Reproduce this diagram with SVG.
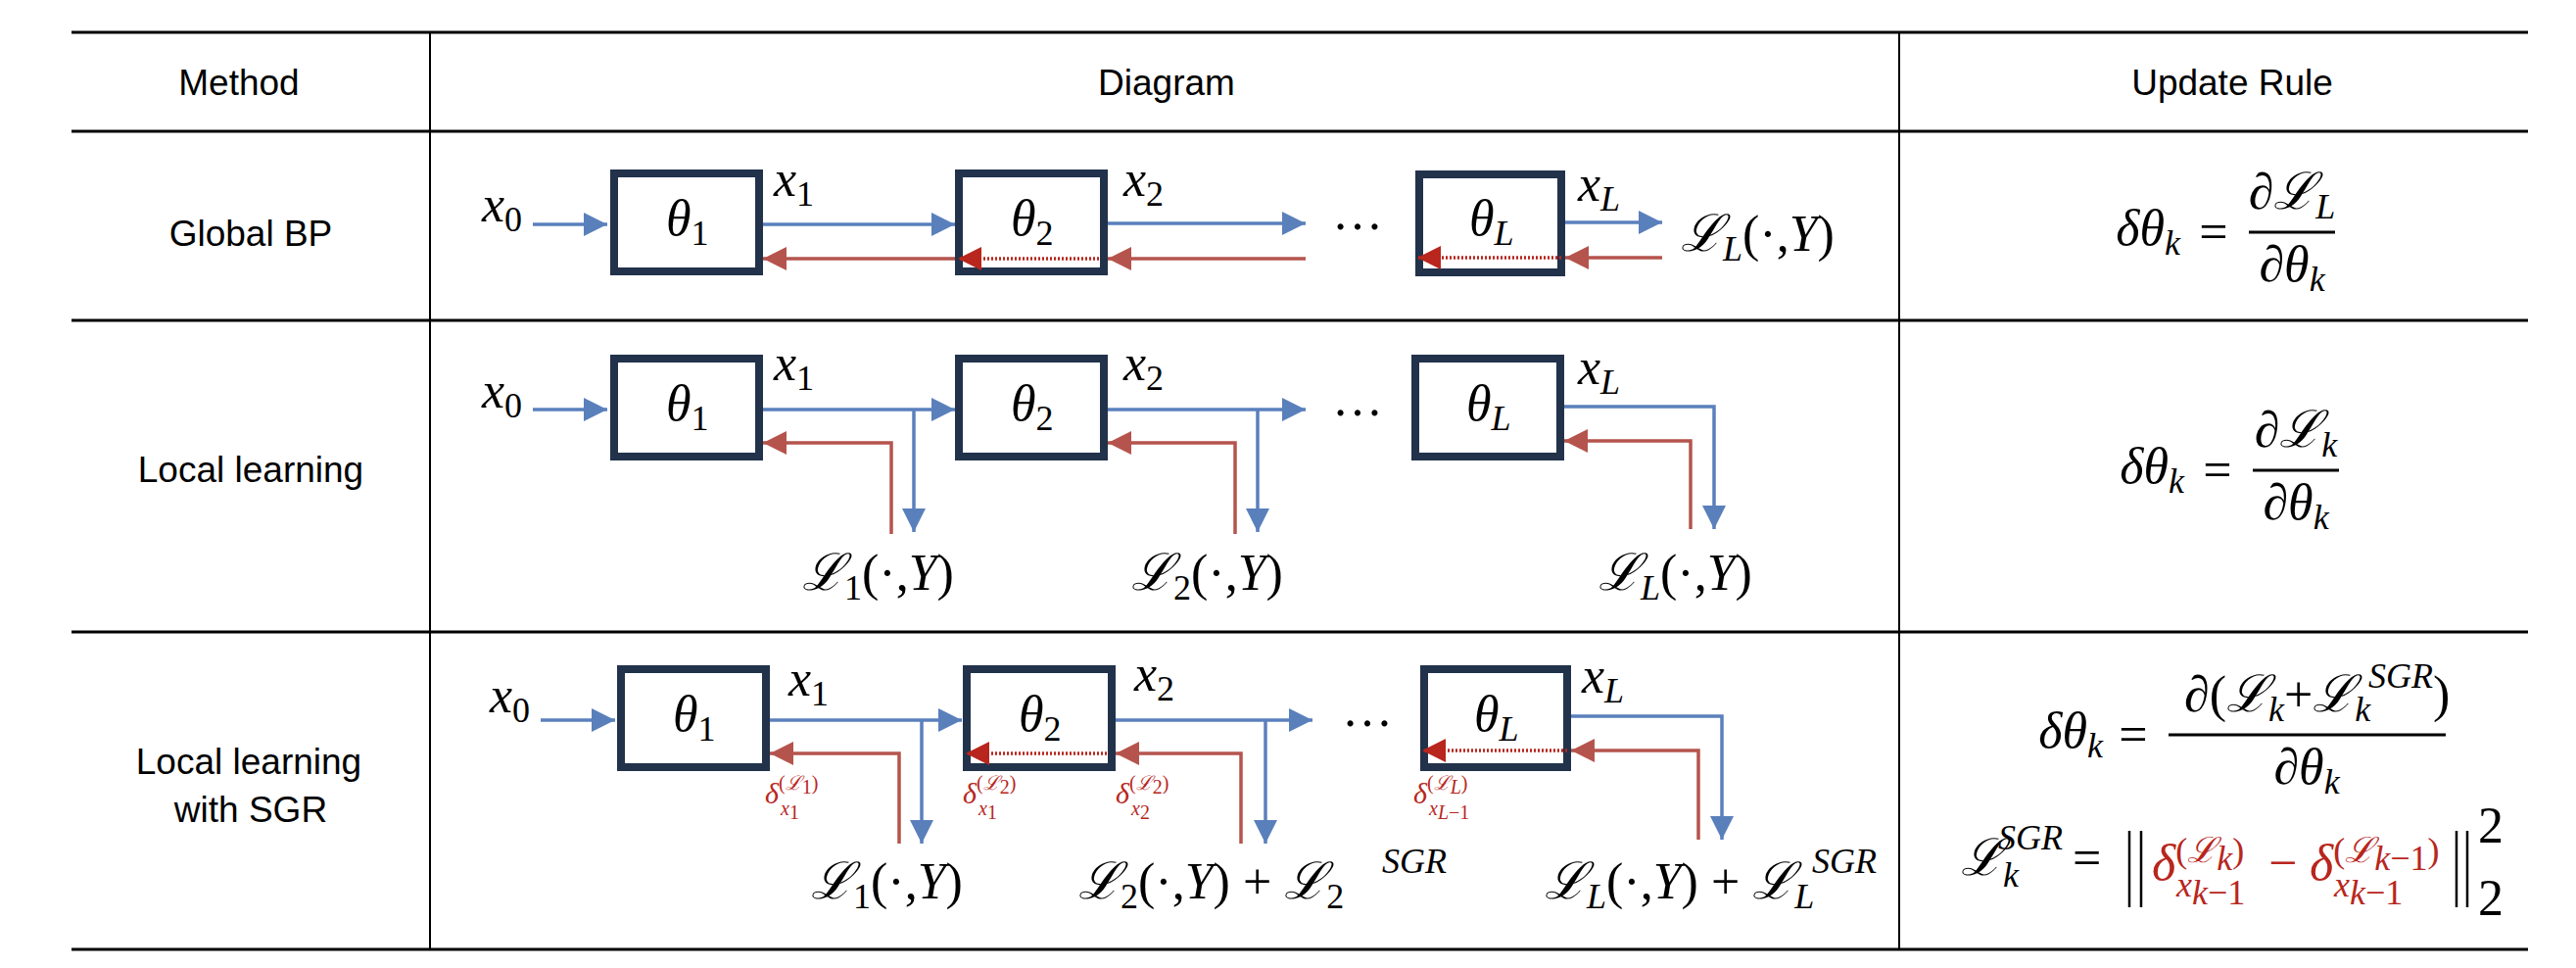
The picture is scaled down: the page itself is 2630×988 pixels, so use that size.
<svg xmlns="http://www.w3.org/2000/svg" width="2630" height="988" viewBox="0 0 2630 988">
<style>
.hd{font-family:"Liberation Sans",Arial,sans-serif;font-size:37px;fill:#000;text-anchor:middle}
.m{font-family:"Liberation Serif","DejaVu Serif",serif;font-style:italic;font-size:52px;fill:#000}
.up{font-style:normal}
.sb{font-size:36px}
.rd{fill:#B8261D}
.d{font-family:"Liberation Serif","DejaVu Serif",serif;font-style:italic;font-size:30px;fill:#B8261D}
.ds{font-size:20px}
.box{fill:#fff;stroke:#22324B;stroke-width:8}
.b{stroke:#5A80BC;stroke-width:3.5;fill:none}
.r{stroke:#B5544D;stroke-width:3.5;fill:none}
.dr{stroke:#B8261D;stroke-width:3.5;fill:none;stroke-dasharray:2 2}
.tl{stroke:#000;stroke-width:3}
.vl{stroke:#000;stroke-width:2}
</style>
<defs>
<marker id="ab" viewBox="0 0 24 24" markerWidth="24" markerHeight="24" markerUnits="userSpaceOnUse" refX="24" refY="12" orient="auto"><path d="M0,0 L24,12 L0,24 z" fill="#5A80BC"/></marker>
<marker id="ar" viewBox="0 0 24 24" markerWidth="24" markerHeight="24" markerUnits="userSpaceOnUse" refX="24" refY="12" orient="auto"><path d="M0,0 L24,12 L0,24 z" fill="#B5544D"/></marker>
<marker id="ad" viewBox="0 0 24 24" markerWidth="24" markerHeight="24" markerUnits="userSpaceOnUse" refX="24" refY="12" orient="auto"><path d="M0,0 L24,12 L0,24 z" fill="#B8261D"/></marker>
</defs>
<rect width="2630" height="988" fill="#fff"/>
<g id="table">
<line class="tl" x1="73" y1="33" x2="2581" y2="33"/>
<line class="tl" x1="73" y1="134" x2="2581" y2="134"/>
<line class="tl" x1="73" y1="327" x2="2581" y2="327"/>
<line class="tl" x1="73" y1="645" x2="2581" y2="645"/>
<line class="tl" x1="73" y1="969" x2="2581" y2="969"/>
<line class="vl" x1="439" y1="33" x2="439" y2="969"/>
<line class="vl" x1="1939" y1="33" x2="1939" y2="969"/>
<text class="hd" x="244" y="97">Method</text>
<text class="hd" x="1191" y="97">Diagram</text>
<text class="hd" x="2279" y="97">Update Rule</text>
<text class="hd" x="256" y="251">Global BP</text>
<text class="hd" x="256" y="492">Local learning</text>
<text class="hd" x="254" y="790">Local learning</text>
<text class="hd" x="256" y="839">with SGR</text>
</g>
<g id="connectors">
<!-- row 1 -->
<line class="b" x1="544" y1="229" x2="620" y2="229" marker-end="url(#ab)"/>
<line class="b" x1="779" y1="229" x2="975" y2="229" marker-end="url(#ab)"/>
<line class="b" x1="1131" y1="228" x2="1333" y2="228" marker-end="url(#ab)"/>
<line class="b" x1="1598" y1="227" x2="1697" y2="227" marker-end="url(#ab)"/>
<line class="r" x1="975" y1="264" x2="779" y2="264" marker-end="url(#ar)"/>
<line class="r" x1="1333" y1="264" x2="1131" y2="264" marker-end="url(#ar)"/>
<line class="r" x1="1697" y1="263" x2="1598" y2="263" marker-end="url(#ar)"/>
<!-- row 2 -->
<line class="b" x1="544" y1="418" x2="620" y2="418" marker-end="url(#ab)"/>
<line class="b" x1="779" y1="418" x2="975" y2="418" marker-end="url(#ab)"/>
<polyline class="b" points="933,418 933,543" marker-end="url(#ab)"/>
<polyline class="r" points="910,545 910,452 779,452" marker-end="url(#ar)"/>
<line class="b" x1="1131" y1="418" x2="1333" y2="418" marker-end="url(#ab)"/>
<polyline class="b" points="1284,418 1284,543" marker-end="url(#ab)"/>
<polyline class="r" points="1261,545 1261,452 1131,452" marker-end="url(#ar)"/>
<polyline class="b" points="1597,415 1750,415 1750,540" marker-end="url(#ab)"/>
<polyline class="r" points="1726,540 1726,450 1597,450" marker-end="url(#ar)"/>
<!-- row 3 -->
<line class="b" x1="552" y1="735" x2="628" y2="735" marker-end="url(#ab)"/>
<line class="b" x1="786" y1="735" x2="982" y2="735" marker-end="url(#ab)"/>
<polyline class="b" points="941,735 941,861" marker-end="url(#ab)"/>
<polyline class="r" points="918,861 918,769 786,769" marker-end="url(#ar)"/>
<line class="b" x1="1139" y1="735" x2="1340" y2="735" marker-end="url(#ab)"/>
<polyline class="b" points="1292,735 1292,861" marker-end="url(#ab)"/>
<polyline class="r" points="1267,861 1267,769 1139,769" marker-end="url(#ar)"/>
<polyline class="b" points="1604,731 1758,731 1758,857" marker-end="url(#ab)"/>
<polyline class="r" points="1734,857 1734,766 1604,766" marker-end="url(#ar)"/>
</g>
<g id="node-r1-1"><rect class="box" x="627" y="177" width="148" height="100"/><text class="m" x="680" y="240">θ<tspan class="sb up" dy="10">1</tspan></text></g>
<g id="node-r1-2"><rect class="box" x="979" y="177" width="148" height="100"/><text class="m" x="1032" y="240">θ<tspan class="sb up" dy="10">2</tspan></text>
<line class="dr" x1="1122" y1="264" x2="978" y2="264" marker-end="url(#ad)"/></g>
<g id="node-r1-L"><rect class="box" x="1449" y="178" width="145" height="100"/><text class="m" x="1500" y="240">θ<tspan class="sb" dy="10">L</tspan></text>
<line class="dr" x1="1594" y1="263" x2="1447" y2="263" marker-end="url(#ad)"/></g>
<g id="node-r2-1"><rect class="box" x="627" y="366" width="148" height="100"/><text class="m" x="680" y="429">θ<tspan class="sb up" dy="10">1</tspan></text></g>
<g id="node-r2-2"><rect class="box" x="979" y="366" width="148" height="100"/><text class="m" x="1032" y="429">θ<tspan class="sb up" dy="10">2</tspan></text></g>
<g id="node-r2-L"><rect class="box" x="1445" y="366" width="148" height="100"/><text class="m" x="1497" y="429">θ<tspan class="sb" dy="10">L</tspan></text></g>
<g id="node-r3-1"><rect class="box" x="634" y="683" width="148" height="100"/><text class="m" x="687" y="746">θ<tspan class="sb up" dy="10">1</tspan></text></g>
<g id="node-r3-2"><rect class="box" x="987" y="683" width="148" height="100"/><text class="m" x="1040" y="746">θ<tspan class="sb up" dy="10">2</tspan></text>
<line class="dr" x1="1130" y1="769" x2="986" y2="769" marker-end="url(#ad)"/></g>
<g id="node-r3-L"><rect class="box" x="1454" y="683" width="146" height="100"/><text class="m" x="1505" y="746">θ<tspan class="sb" dy="10">L</tspan></text>
<line class="dr" x1="1600" y1="766" x2="1452" y2="766" marker-end="url(#ad)"/></g>
<g id="labels">
<!-- row1 -->
<text class="m" x="492" y="226">x<tspan class="sb up" dy="10">0</tspan></text>
<text class="m" x="790" y="200">x<tspan class="sb up" dy="10">1</tspan></text>
<text class="m" x="1147" y="200">x<tspan class="sb up" dy="10">2</tspan></text>
<text class="m" x="1611" y="205">x<tspan class="sb" dy="10">L</tspan></text>
<text class="m up" x="1386" y="234" text-anchor="middle" font-size="40">…</text>
<text class="m" x="1716" y="256">ℒ<tspan class="sb" dy="10">L</tspan><tspan class="up" dy="-10">(·,</tspan>Y<tspan class="up">)</tspan></text>
<!-- row2 -->
<text class="m" x="492" y="416">x<tspan class="sb up" dy="10">0</tspan></text>
<text class="m" x="790" y="388">x<tspan class="sb up" dy="10">1</tspan></text>
<text class="m" x="1147" y="388">x<tspan class="sb up" dy="10">2</tspan></text>
<text class="m" x="1611" y="392">x<tspan class="sb" dy="10">L</tspan></text>
<text class="m up" x="1386" y="424" text-anchor="middle" font-size="40">…</text>
<text class="m" x="819" y="602">ℒ<tspan class="sb up" dy="10">1</tspan><tspan class="up" dy="-10">(·,</tspan>Y<tspan class="up">)</tspan></text>
<text class="m" x="1155" y="602">ℒ<tspan class="sb up" dy="10">2</tspan><tspan class="up" dy="-10">(·,</tspan>Y<tspan class="up">)</tspan></text>
<text class="m" x="1632" y="602">ℒ<tspan class="sb" dy="10">L</tspan><tspan class="up" dy="-10">(·,</tspan>Y<tspan class="up">)</tspan></text>
<!-- row3 -->
<text class="m" x="500" y="727">x<tspan class="sb up" dy="10">0</tspan></text>
<text class="m" x="805" y="710">x<tspan class="sb up" dy="10">1</tspan></text>
<text class="m" x="1158" y="705">x<tspan class="sb up" dy="10">2</tspan></text>
<text class="m" x="1615" y="707">x<tspan class="sb" dy="10">L</tspan></text>
<text class="m up" x="1396" y="741" text-anchor="middle" font-size="40">…</text>
<text class="m" x="828" y="917">ℒ<tspan class="sb up" dy="10">1</tspan><tspan class="up" dy="-10">(·,</tspan>Y<tspan class="up">)</tspan></text>
<text class="m" x="1101" y="917">ℒ<tspan class="sb up" dy="10">2</tspan><tspan class="up" dy="-10">(·,</tspan>Y<tspan class="up">) + </tspan>ℒ<tspan class="sb up" dy="10">2</tspan><tspan class="sb" x="1411" dy="-36">SGR</tspan></text>
<text class="m" x="1577" y="917">ℒ<tspan class="sb" dy="10">L</tspan><tspan class="up" dy="-10">(·,</tspan>Y<tspan class="up">) + </tspan>ℒ<tspan class="sb" dy="10">L</tspan><tspan class="sb" x="1850" dy="-36">SGR</tspan></text>
<text class="d" x="781" y="820">δ<tspan class="ds up" dy="-14">(</tspan><tspan class="ds">ℒ</tspan><tspan class="ds up" font-size="14" dy="4">1</tspan><tspan class="ds up" dy="-4">)</tspan><tspan class="ds" x="797" dy="26">x</tspan><tspan class="ds up" font-size="14" dy="4">1</tspan></text>
<text class="d" x="983" y="820">δ<tspan class="ds up" dy="-14">(</tspan><tspan class="ds">ℒ</tspan><tspan class="ds up" font-size="14" dy="4">2</tspan><tspan class="ds up" dy="-4">)</tspan><tspan class="ds" x="999" dy="26">x</tspan><tspan class="ds up" font-size="14" dy="4">1</tspan></text>
<text class="d" x="1139" y="820">δ<tspan class="ds up" dy="-14">(</tspan><tspan class="ds">ℒ</tspan><tspan class="ds up" font-size="14" dy="4">2</tspan><tspan class="ds up" dy="-4">)</tspan><tspan class="ds" x="1155" dy="26">x</tspan><tspan class="ds up" font-size="14" dy="4">2</tspan></text>
<text class="d" x="1443" y="820">δ<tspan class="ds up" dy="-14">(</tspan><tspan class="ds">ℒ</tspan><tspan class="ds" font-size="14" dy="4">L</tspan><tspan class="ds up" dy="-4">)</tspan><tspan class="ds" x="1459" dy="26">x</tspan><tspan class="ds" font-size="14" dy="4">L</tspan><tspan class="ds up" font-size="14">−1</tspan></text>
</g>
<g id="update-rules">
<!-- row1 -->
<text class="m" x="2226" y="250" text-anchor="end">δθ<tspan class="sb" dy="10">k</tspan></text>
<text class="m up" x="2260" y="254" text-anchor="middle">=</text>
<line x1="2296" y1="237" x2="2384" y2="237" stroke="#000" stroke-width="3"/>
<text class="m" x="2340" y="213" text-anchor="middle">∂ℒ<tspan class="sb" dy="10">L</tspan></text>
<text class="m" x="2340" y="287" text-anchor="middle">∂θ<tspan class="sb" dy="10">k</tspan></text>
<!-- row2 -->
<text class="m" x="2230" y="493" text-anchor="end">δθ<tspan class="sb" dy="10">k</tspan></text>
<text class="m up" x="2264" y="497" text-anchor="middle">=</text>
<line x1="2300" y1="480" x2="2388" y2="480" stroke="#000" stroke-width="3"/>
<text class="m" x="2344" y="456" text-anchor="middle">∂ℒ<tspan class="sb" dy="10">k</tspan></text>
<text class="m" x="2344" y="530" text-anchor="middle">∂θ<tspan class="sb" dy="10">k</tspan></text>
<!-- row3 -->
<text class="m" x="2147" y="763" text-anchor="end">δθ<tspan class="sb" dy="10">k</tspan></text>
<text class="m up" x="2178" y="767" text-anchor="middle">=</text>
<line x1="2214" y1="750" x2="2497" y2="750" stroke="#000" stroke-width="3"/>
<text class="m" x="2230" y="726">∂<tspan class="up">(</tspan>ℒ<tspan class="sb" dy="10">k</tspan><tspan class="up" dy="-10">+</tspan>ℒ<tspan class="sb" dy="10">k</tspan><tspan class="sb" x="2418" dy="-34">SGR</tspan><tspan class="up" dy="24">)</tspan></text>
<text class="m" x="2355" y="800" text-anchor="middle">∂θ<tspan class="sb" dy="10">k</tspan></text>
<text class="m" x="2002" y="893">ℒ<tspan class="sb" dy="12">k</tspan><tspan class="sb" x="2040" dy="-38">SGR</tspan><tspan class="up" x="2116" dy="26">=</tspan></text>
<line x1="2174" y1="848" x2="2174" y2="926" stroke="#000" stroke-width="2.5"/>
<line x1="2186" y1="848" x2="2186" y2="926" stroke="#000" stroke-width="2.5"/>
<line x1="2508" y1="848" x2="2508" y2="926" stroke="#000" stroke-width="2.5"/>
<line x1="2519" y1="848" x2="2519" y2="926" stroke="#000" stroke-width="2.5"/>
<text class="m rd" x="2197" y="898">δ<tspan class="sb up" dy="-18">(</tspan><tspan class="sb">ℒ</tspan><tspan class="sb" font-size="26" dy="8">k</tspan><tspan class="sb up" dy="-8">)</tspan><tspan class="sb" x="2222" dy="35">x</tspan><tspan class="sb" font-size="26" dy="8">k</tspan><tspan class="sb up" font-size="26">−1</tspan></text>
<text class="m up rd" x="2316" y="898">−</text>
<text class="m rd" x="2358" y="898">δ<tspan class="sb up" dy="-18">(</tspan><tspan class="sb">ℒ</tspan><tspan class="sb" font-size="26" dy="8">k</tspan><tspan class="sb up" font-size="26">−1</tspan><tspan class="sb up" dy="-8">)</tspan><tspan class="sb" x="2383" dy="35">x</tspan><tspan class="sb" font-size="26" dy="8">k</tspan><tspan class="sb up" font-size="26">−1</tspan></text>
<text class="m up" x="2530" y="860" font-size="32">2</text>
<text class="m up" x="2530" y="934" font-size="32">2</text>
</g>
</svg>
